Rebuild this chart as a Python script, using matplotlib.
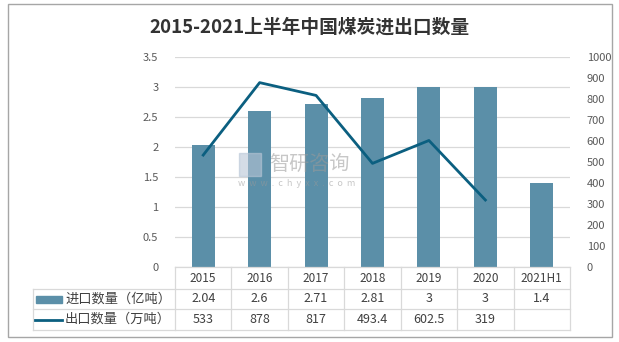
import matplotlib
matplotlib.use("Agg")
import matplotlib.pyplot as plt
from matplotlib.lines import Line2D
from matplotlib.patches import Rectangle
import matplotlib.transforms as mtransforms

plt.rcParams['font.family'] = ['Noto Sans CJK SC', 'DejaVu Sans']

title = "2015-2021上半年中国煤炭进出口数量"
categories = ["2015", "2016", "2017", "2018", "2019", "2020", "2021H1"]
imports = [2.04, 2.6, 2.71, 2.81, 3, 3, 1.4]
exports = [533, 878, 817, 493.4, 602.5, 319]
import_labels = ["2.04", "2.6", "2.71", "2.81", "3", "3", "1.4"]
export_labels = ["533", "878", "817", "493.4", "602.5", "319", ""]
series_names = ["进口数量（亿吨）", "出口数量（万吨）"]
left_ticks = [0, 0.5, 1, 1.5, 2, 2.5, 3, 3.5]
right_ticks = list(range(0, 1001, 100))

W, H = 619, 342
bar_color = "#5B8FA8"
line_color = "#0B5F80"
grid_color = "#D9D9D9"
text_color = "#404040"
tick_color = "#595959"

fig = plt.figure(figsize=(W / 100, H / 100), dpi=100)

def fx(px):
    return px / W

def fy(py):
    return 1 - py / H

ax_l, ax_r, ax_t, ax_b = 175, 570, 57, 267
ax = fig.add_axes([fx(ax_l), fy(ax_b), fx(ax_r) - fx(ax_l), fy(ax_t) - fy(ax_b)])
ax2 = ax.twinx()

x = list(range(len(categories)))
ax.bar(x, imports, width=0.41, color=bar_color, zorder=3)
ax.set_xlim(-0.5, len(categories) - 0.5)
ax.set_ylim(0, 3.5)
ax.set_yticks(left_ticks)
ax.set_yticklabels([f"{t:g}" for t in left_ticks])
ax.yaxis.grid(True, color=grid_color, linewidth=0.9, zorder=0)
ax.set_axisbelow(True)
ax.set_xticks([])
ax.tick_params(axis='y', length=0, pad=12, labelsize=8, labelcolor=tick_color)

ax2.plot(x[:len(exports)], exports, color=line_color, linewidth=2.0, zorder=4)
ax2.set_ylim(0, 1000)
ax2.set_yticks(right_ticks)
ax2.tick_params(axis='y', length=0, pad=12, labelsize=8, labelcolor=tick_color)
for a in (ax, ax2):
    for s in a.spines.values():
        s.set_visible(False)

# Title
fig.text(0.5, fy(27), title, ha='center', va='center', fontsize=13.5,
         fontweight='bold', color="#333333")

# Data table
rows_y = [267, 289, 309, 330]
tab_left = 33
line_kw = dict(color=grid_color, linewidth=0.9)
col_edges_data = [i - 0.5 for i in range(len(categories) + 1)]
blend = mtransforms.blended_transform_factory(ax.transData, fig.transFigure)

fig.add_artist(Line2D([fx(ax_l), fx(ax_r)], [fy(rows_y[0])] * 2, **line_kw))
for ry in rows_y[1:]:
    fig.add_artist(Line2D([fx(tab_left), fx(ax_r)], [fy(ry)] * 2, **line_kw))
for e in col_edges_data:
    fig.add_artist(Line2D([e, e], [fy(rows_y[0]), fy(rows_y[-1])],
                          transform=blend, **line_kw))
fig.add_artist(Line2D([fx(tab_left)] * 2, [fy(rows_y[1]), fy(rows_y[-1])], **line_kw))

def row_center(i):
    return fy((rows_y[i] + rows_y[i + 1]) / 2)

for i, c in enumerate(categories):
    fig.text(i, row_center(0), c, transform=blend, ha='center', va='center',
             fontsize=8.5, color=text_color)
    fig.text(i, row_center(1), import_labels[i], transform=blend, ha='center',
             va='center', fontsize=9, color=text_color)
    fig.text(i, row_center(2), export_labels[i], transform=blend, ha='center',
             va='center', fontsize=9, color=text_color)

# legend keys in table
fig.add_artist(Rectangle((fx(36), row_center(1) - 3.5 / H), fx(26), 7 / H,
                         color=bar_color, transform=fig.transFigure))
fig.add_artist(Line2D([fx(35), fx(62)], [row_center(2)] * 2, color=line_color,
                      linewidth=2.0))
fig.text(fx(65), row_center(1), series_names[0], ha='left', va='center',
         fontsize=9.5, color=text_color)
fig.text(fx(65), row_center(2), series_names[1], ha='left', va='center',
         fontsize=9.5, color=text_color)

# watermark
fig.text(fx(269), fy(164), "智研咨询", ha='left', va='center', fontsize=14.5,
         color="#9A9A9A", alpha=0.55, zorder=5)
fig.text(fx(238), fy(183), "w  w  w  .  c  h  y  x  x  .  c  o  m", ha='left',
         va='center', fontsize=6.5, color="#9A9A9A", alpha=0.55, zorder=5)
fig.add_artist(Rectangle((fx(239), fy(176)), fx(22), 23 / H, color="#B8C6D6",
                         alpha=0.6, transform=fig.transFigure, zorder=5))

# outer border
fig.add_artist(Rectangle((fx(8), fy(337)), fx(604), (337 - 4) / H, fill=False,
                         edgecolor="#A6A6A6", linewidth=1.0,
                         transform=fig.transFigure))

fig.savefig("out.png", dpi=100)
